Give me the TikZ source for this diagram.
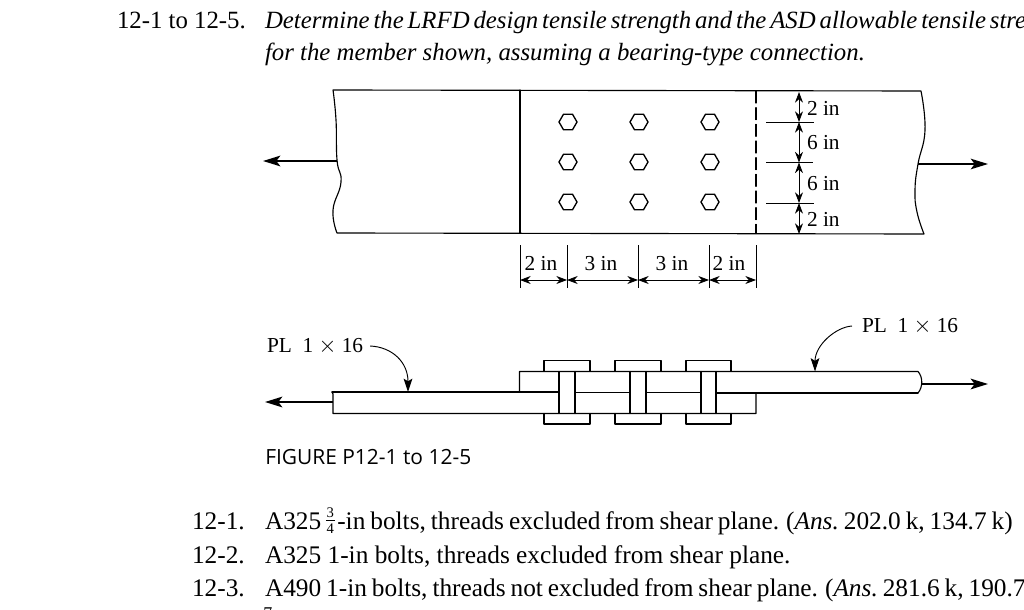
\documentclass[tikz,border=0pt]{standalone}
\usepackage{fontspec}
\setmainfont{Liberation Serif}
\newfontfamily\capfont{Open Sans}
\usetikzlibrary{arrows.meta,shapes.geometric}
\newcommand{\stackfrac}[2]{\makebox[10.5pt][c]{\fontsize{11}{11}\selectfont\makebox[0pt][c]{\raisebox{8.3pt}{#1}}\makebox[0pt][c]{\rule[6.2pt]{6.5pt}{0.45pt}}\makebox[0pt][c]{\raisebox{-3pt}{#2}}}}
\tikzset{
  ln/.style={line width=0.85pt,line cap=round,line join=round},
  thin ln/.style={line width=0.6pt},
  txt/.style={anchor=base west,inner sep=0pt,outer sep=0pt,font=\fontsize{18.6}{21}\selectfont},
  prob/.style={anchor=base west,inner sep=0pt,outer sep=0pt,font=\fontsize{19}{21}\selectfont},
  smalltxt/.style={anchor=base west,inner sep=0pt,outer sep=0pt,font=\fontsize{16}{19}\selectfont},
  dimtxt/.style={anchor=base,inner sep=0pt,outer sep=0pt,font=\fontsize{16}{19}\selectfont},
  force/.style={line width=1.5pt,-{Stealth[length=13pt,width=8pt,inset=3pt]}},
  dimarr/.style={line width=0.6pt,{Stealth[length=8pt,width=6pt]}-{Stealth[length=8pt,width=6pt]}},
  lead/.style={line width=0.7pt,-{Stealth[length=10pt,width=6.5pt,inset=2pt]}},
  hole/.style={draw,regular polygon,regular polygon sides=6,minimum size=13.5pt,inner sep=0pt,line width=1pt},
  plate/.style={ln,fill=white}
}
\begin{document}
\begin{tikzpicture}[x=0.75pt,y=-0.75pt]
\useasboundingbox (0,0) rectangle (1024,610);
\clip (0,0) rectangle (1024,610);
% heading
\node[txt] (h1) at (117,29) {12-1 to 12-5.};
\node[txt] (h2) at (265,29) {\itshape\spaceskip=2.9pt Determine the LRFD design tensile strength and the ASD allowable tensile stre};
\node[txt] (h3) at (265,61) {\itshape for the member shown, assuming a bearing-type connection.};
% plan view
\coordinate (tl) at (333,90); \coordinate (tr) at (921,91);
\coordinate (bl) at (337,233); \coordinate (br) at (924,234);
\coordinate (st) at (520,90); \coordinate (sb) at (520,233);
\coordinate (dt) at (756,91); \coordinate (db) at (756,233);
\draw[ln] (tl) -- (tr) plot[smooth,tension=0.8] coordinates {(921,91) (925,130) (918,164) (915,190) (917,212) (924,234)} -- (bl) plot[smooth,tension=0.8] coordinates {(337,233) (333,210) (341,182) (337,160) (336,120) (333,90)};
\draw[ln] (st) -- (sb);
\draw[ln,dash pattern=on 9pt off 3.5pt] (dt) -- (db);
\foreach \nx/\x in {a/568,b/639,c/710}
  \foreach \ny/\y in {1/122,2/162,3/202}
    \node[hole] (h\nx\ny) at (\x,\y) {};
\coordinate (fl) at (337,161); \coordinate (flt) at (263,161);
\coordinate (fr) at (918,164); \coordinate (frt) at (988,164);
\draw[force] (fl) -- (flt);
\draw[force,line width=1pt] (fr) -- (frt);
% vertical dimensions
\foreach \n/\y/\a/\b in {t1/122/766/814,t2/162.5/766/813,t3/203/766/814}{
  \coordinate (\n a) at (\a,\y); \coordinate (\n b) at (\b,\y); \coordinate (\n m) at (799,\y);
  \draw[thin ln] (\n a) -- (\n b);}
\coordinate (vt) at (799,92); \coordinate (vb) at (799,234);
\draw[dimarr] (vt) -- (t1m);
\draw[dimarr] (t1m) -- (t2m);
\draw[dimarr] (t2m) -- (t3m);
\draw[dimarr] (t3m) -- (vb);
\node[smalltxt] (v1) at (807,115) {2 in};
\node[smalltxt] (v2) at (807,149) {6 in};
\node[smalltxt] (v3) at (807,190) {6 in};
\node[smalltxt] (v4) at (807,226) {2 in};
% horizontal dimensions
\foreach \n/\x in {p/520,q/567,r/638,s/709,u/756}{
  \coordinate (\n a) at (\x,245); \coordinate (\n b) at (\x,288); \coordinate (\n m) at (\x,280);
  \draw[thin ln] (\n a) -- (\n b);}
\draw[dimarr] (pm) -- (qm);
\draw[dimarr] (qm) -- (rm);
\draw[dimarr] (rm) -- (sm);
\draw[dimarr] (sm) -- (um);
\node[dimtxt] (d1) at (541,270) {2 in};
\node[dimtxt] (d2) at (601,270) {3 in};
\node[dimtxt] (d3) at (672,270) {3 in};
\node[dimtxt] (d4) at (729,270) {2 in};
% side view
\foreach \a/\b in {544/590,615/661,686/731}{
  \draw[ln] (\a,371) -- (\a,360.5) -- (\b,360.5) -- (\b,371);
  \draw[ln] (\a,413.5) -- (\a,424) -- (\b,424) -- (\b,413.5);}
\coordinate (ua) at (519.5,392); \coordinate (ub) at (519.5,371.5);
\coordinate (uc) at (918,371.5); \coordinate (ud) at (918,393);
\coordinate (la) at (332,392); \coordinate (lb) at (333,413.5);
\coordinate (lc) at (756,413.5); \coordinate (ld) at (756,393);
\draw[ln] (ua) -- (ub) -- (uc) .. controls (923,377) and (923,387) .. (ud);
\draw[ln] (la) -- (333,394) -- (lb) -- (lc) -- (ld);
\draw[ln] (la) -- (559,392);
\draw[ln] (575,392.5) -- (630,392.5);
\draw[ln] (646,392.5) -- (701,392.5);
\draw[ln] (716,393) -- (ud);
\foreach \a/\b in {559/575,630/646,701/716}{
  \draw[ln] (\a,371.5) -- (\a,413.5);
  \draw[ln] (\b,371.5) -- (\b,413.5);}
\coordinate (sfl) at (333,402); \coordinate (sflt) at (265,402);
\coordinate (sfr) at (921,384); \coordinate (sfrt) at (988,384);
\draw[force] (sfl) -- (sflt);
\draw[force] (sfr) -- (sfrt);
\node[smalltxt] (pl1) at (267,352) {PL\ \ 1 $\times$ 16};
\node[smalltxt] (pl2) at (862,332) {PL\ \ 1 $\times$ 16};
\coordinate (e1) at (408,392); \coordinate (e2) at (815,371.5);
\draw[lead] (pl1.base east) ++(7,-6) .. controls (392,347) and (408,362) .. (e1);
\draw[lead] (pl2.base west) ++(-10,-6) .. controls (836,327) and (815,345) .. (e2);
\node[anchor=base west,inner sep=0pt,font=\capfont\fontsize{15.7}{18}\selectfont] (cap) at (265,464) {FIGURE P12-1 to 12-5};
% problems
\node[prob] (n1) at (192,529) {12-1.};
\node[prob] (t1) at (265,529) {\spaceskip=3.7pt A325\hspace{1.5pt}\stackfrac{3}{4}-in bolts, threads excluded from shear plane. (\textit{Ans.}\ 202.0 k, 134.7 k)};
\node[prob] (n2) at (192,563) {12-2.};
\node[prob] (t2) at (265,563) {A325 1-in bolts, threads excluded from shear plane.};
\node[prob] (n3) at (192,596) {12-3.};
\node[prob] (t3) at (265,596) {\spaceskip=3.7pt A490 1-in bolts, threads not excluded from shear plane. (\textit{Ans.}\ 281.6 k, 190.7};
\node[anchor=base west,inner sep=0pt,font=\fontsize{13.5}{15}\selectfont] (t4) at (263,619) {7};
\end{tikzpicture}
\end{document}
